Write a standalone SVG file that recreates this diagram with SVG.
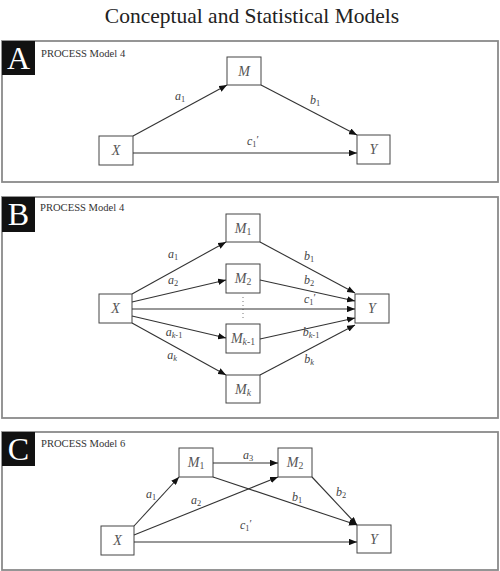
<svg xmlns="http://www.w3.org/2000/svg" width="500" height="571" viewBox="0 0 500 571">
<defs>
<marker id="ah" viewBox="0 0 10 8" refX="10" refY="4" markerWidth="8" markerHeight="6.4" markerUnits="userSpaceOnUse" orient="auto">
<path d="M0,0 L10,4 L0,8 Z" fill="#111"/>
</marker>
<style>
.frame{fill:#fff;stroke:#8a8a8a;stroke-width:1.8}
.tag{fill:#111}
.tagt{font-family:"Liberation Serif",serif;font-size:32px;fill:#fff;text-anchor:middle}
.ptitle{font-family:"Liberation Serif",serif;font-size:10.6px;fill:#333}
.box{fill:#fff;stroke:#444;stroke-width:1}
.nl{font-family:"Liberation Serif",serif;font-size:14px;font-style:italic;fill:#555;text-anchor:middle}
.el{font-family:"Liberation Serif",serif;font-size:12px;font-style:italic;fill:#444;text-anchor:middle}
.sub{font-style:normal;font-size:70%}
.subi{font-size:70%}
.pr{font-style:normal;font-size:11px}
.edge{stroke:#333;stroke-width:1.1;fill:none;marker-end:url(#ah)}
</style>
</defs>
<rect width="500" height="571" fill="#fff"/>
<text x="252" y="23" font-family="Liberation Serif, serif" font-size="21.5" fill="#222" text-anchor="middle">Conceptual and Statistical Models</text>

<!-- Panel A -->
<g id="panelA">
<rect class="frame" x="2" y="41" width="496" height="141"/>
<rect class="tag" x="2" y="41" width="33" height="34"/>
<text class="tagt" x="18.5" y="69">A</text>
<text class="ptitle" x="41" y="57">PROCESS Model 4</text>
</g>
<g id="A-M"><rect class="box" x="227" y="57" width="34" height="28"/><text class="nl" x="244" y="76">M</text></g>
<g id="A-X"><rect class="box" x="99" y="136" width="34" height="29"/><text class="nl" x="116" y="155">X</text></g>
<g id="A-Y"><rect class="box" x="357" y="135" width="33" height="29"/><text class="nl" x="373.5" y="154">Y</text></g>
<g id="A-edges">
<line class="edge" x1="133" y1="136" x2="227" y2="85"/>
<line class="edge" x1="261" y1="85" x2="357" y2="135"/>
<line class="edge" x1="133" y1="153" x2="357" y2="153"/>
<text class="el" x="180" y="100">a<tspan class="sub" dy="2">1</tspan></text>
<text class="el" x="315" y="104">b<tspan class="sub" dy="2">1</tspan></text>
<text class="el" x="253" y="145">c<tspan class="sub" dy="2">1</tspan><tspan class="pr" dy="-4">′</tspan></text>
</g>

<!-- Panel B -->
<g id="panelB">
<rect class="frame" x="2" y="197" width="496" height="221"/>
<rect class="tag" x="2" y="197" width="33" height="35"/>
<text class="tagt" x="18.5" y="225">B</text>
<text class="ptitle" x="40" y="211">PROCESS Model 4</text>
</g>
<g id="B-M1"><rect class="box" x="226" y="214" width="34" height="28"/><text class="nl" x="243" y="233">M<tspan class="sub" dy="2">1</tspan></text></g>
<g id="B-M2"><rect class="box" x="226" y="264" width="34" height="29"/><text class="nl" x="243" y="283">M<tspan class="sub" dy="2">2</tspan></text></g>
<g id="B-Mk1"><rect class="box" x="226" y="324" width="34" height="29"/><text class="nl" x="243" y="343">M<tspan class="subi" dy="2">k</tspan><tspan class="sub">-1</tspan></text></g>
<g id="B-Mk"><rect class="box" x="226" y="375" width="34" height="28"/><text class="nl" x="243" y="394">M<tspan class="subi" dy="2">k</tspan></text></g>
<g id="B-X"><rect class="box" x="99" y="294" width="33" height="29"/><text class="nl" x="115.5" y="313">X</text></g>
<g id="B-Y"><rect class="box" x="355" y="294" width="34" height="29"/><text class="nl" x="372" y="313">Y</text></g>
<g id="B-edges">
<line x1="243" y1="297" x2="243" y2="321" stroke="#777" stroke-width="1" stroke-dasharray="1,3"/>
<line class="edge" x1="132" y1="294" x2="226" y2="242"/>
<line class="edge" x1="132" y1="302" x2="226" y2="280"/>
<line class="edge" x1="132" y1="309" x2="355" y2="309"/>
<line class="edge" x1="132" y1="316" x2="226" y2="338"/>
<line class="edge" x1="132" y1="323" x2="226" y2="375"/>
<line class="edge" x1="260" y1="242" x2="355" y2="293"/>
<line class="edge" x1="260" y1="280" x2="355" y2="301"/>
<line class="edge" x1="260" y1="339" x2="355" y2="318"/>
<line class="edge" x1="260" y1="375" x2="355" y2="325"/>
<text class="el" x="173" y="258">a<tspan class="sub" dy="2">1</tspan></text>
<text class="el" x="173" y="284">a<tspan class="sub" dy="2">2</tspan></text>
<text class="el" x="174" y="336">a<tspan class="subi" dy="2">k</tspan><tspan class="sub">-1</tspan></text>
<text class="el" x="172" y="359">a<tspan class="subi" dy="2">k</tspan></text>
<text class="el" x="309" y="260">b<tspan class="sub" dy="2">1</tspan></text>
<text class="el" x="309" y="284">b<tspan class="sub" dy="2">2</tspan></text>
<text class="el" x="310" y="303">c<tspan class="sub" dy="2">1</tspan><tspan class="pr" dy="-4">′</tspan></text>
<text class="el" x="311" y="336">b<tspan class="subi" dy="2">k</tspan><tspan class="sub">-1</tspan></text>
<text class="el" x="309" y="363">b<tspan class="subi" dy="2">k</tspan></text>
</g>

<!-- Panel C -->
<g id="panelC">
<rect class="frame" x="2" y="432" width="496" height="138"/>
<rect class="tag" x="2" y="432" width="33" height="34"/>
<text class="tagt" x="18.5" y="460">C</text>
<text class="ptitle" x="41" y="447">PROCESS Model 6</text>
</g>
<g id="C-M1"><rect class="box" x="179" y="448" width="34" height="29"/><text class="nl" x="196" y="467">M<tspan class="sub" dy="2">1</tspan></text></g>
<g id="C-M2"><rect class="box" x="278" y="448" width="34" height="29"/><text class="nl" x="295" y="467">M<tspan class="sub" dy="2">2</tspan></text></g>
<g id="C-X"><rect class="box" x="101" y="526" width="33" height="29"/><text class="nl" x="117.5" y="545">X</text></g>
<g id="C-Y"><rect class="box" x="357" y="525" width="34" height="28"/><text class="nl" x="374" y="544">Y</text></g>
<g id="C-edges">
<line class="edge" x1="213" y1="463" x2="278" y2="463"/>
<line class="edge" x1="134" y1="526" x2="179" y2="477"/>
<line class="edge" x1="134" y1="535" x2="278" y2="477"/>
<line class="edge" x1="213" y1="477" x2="357" y2="525"/>
<line class="edge" x1="312" y1="477" x2="357" y2="525"/>
<line class="edge" x1="134" y1="542" x2="357" y2="542"/>
<text class="el" x="248" y="459">a<tspan class="sub" dy="2">3</tspan></text>
<text class="el" x="151" y="498">a<tspan class="sub" dy="2">1</tspan></text>
<text class="el" x="196" y="504">a<tspan class="sub" dy="2">2</tspan></text>
<text class="el" x="297" y="501">b<tspan class="sub" dy="2">1</tspan></text>
<text class="el" x="341" y="496">b<tspan class="sub" dy="2">2</tspan></text>
<text class="el" x="246" y="529">c<tspan class="sub" dy="2">1</tspan><tspan class="pr" dy="-4">′</tspan></text>
</g>
</svg>
